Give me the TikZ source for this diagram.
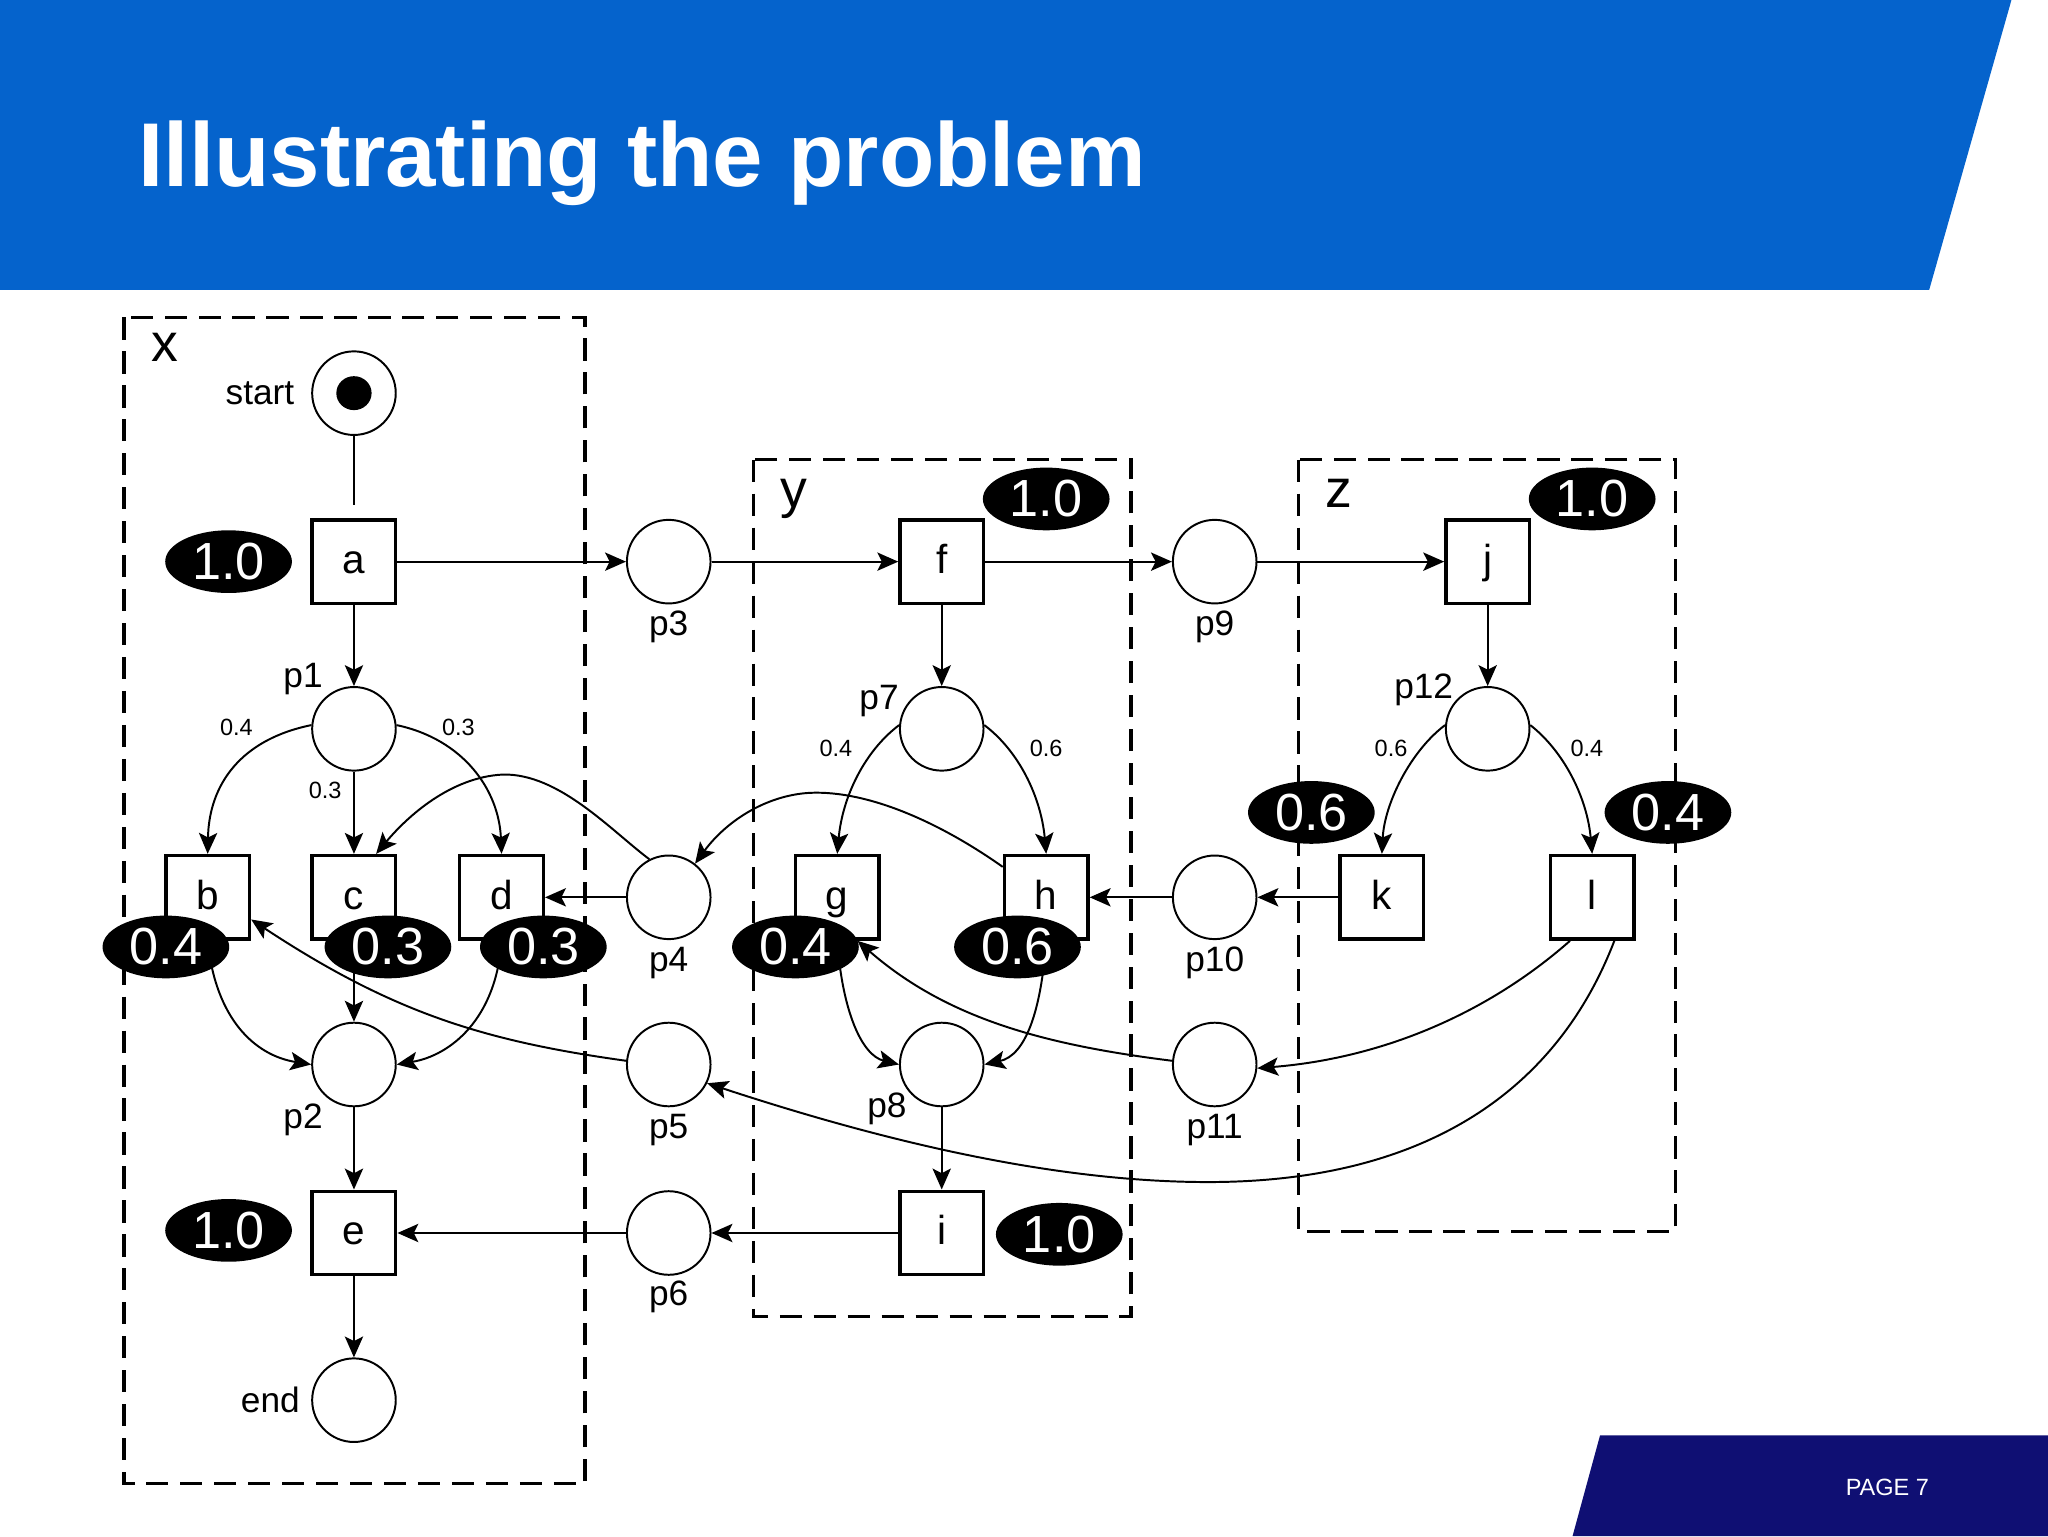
\documentclass[tikz,border=0pt]{standalone}
\usepackage{fontspec}
\setmainfont{Liberation Sans}
\usetikzlibrary{arrows.meta,shapes.geometric}
\definecolor{hdrblue}{HTML}{0563CC}
\definecolor{ftrnavy}{HTML}{0F0F73}
\newcommand{\fsz}[1]{\fontsize{#1}{#1}\selectfont}
\tikzset{
  place/.style={circle,draw=black,fill=white,line width=1.5pt,minimum size=64pt,inner sep=0pt},
  trans/.style={rectangle,draw=black,fill=white,line width=2.6pt,minimum size=64pt,inner sep=0pt,text height=18pt,text depth=0pt,font=\fsz{31}},
  region/.style={draw=black,line width=2.6pt,dash pattern=on 17pt off 9pt},
  arc/.style={draw=black,line width=1.5pt,-{Stealth[length=16pt,width=14pt,inset=3.5pt]}},
  plain/.style={draw=black,line width=1.5pt},
  lbl/.style={inner sep=0pt,font=\fsz{27}},
  prob/.style={inner sep=0pt,font=\fsz{18}},
  reg/.style={inner sep=0pt,font=\fsz{41}},
  badge/.style={ellipse,fill=black,text=white,minimum width=97pt,minimum height=48pt,inner sep=0pt,font=\fsz{40}},
}
\begin{document}
\begin{tikzpicture}[x=1pt,y=-1pt]
\useasboundingbox (0,0) rectangle (1568,1176);
\fill[white] (0,0) rectangle (1568,1176);
\fill[hdrblue] (0,0) -- (1540,0) -- (1477,222) -- (0,222) -- cycle;
\fill[ftrnavy] (1225,1099) -- (1568,1099) -- (1568,1176) -- (1204,1176) -- cycle;
\node[anchor=base west,inner sep=0pt,text=white,font=\fsz{69.4}\bfseries] (title) at (106,143) {Illustrating the problem};
\node[inner sep=0pt,text=white,font=\fsz{18}] (page) at (1445,1139) {PAGE 7};
% regions
\draw[region] (95,243) rectangle (448,1136);
\draw[region] (577,352) rectangle (866,1008);
\draw[region] (994,352) rectangle (1283,943);
\node[reg] (lx) at (126,266) {x};
\node[reg] (ly) at (608,382) {y};
\node[reg] (lz) at (1025,378) {z};
% places
\node[place] (start) at (271,301) {};
\fill[black] (start.center) ellipse (13.5pt and 13pt);
\coordinate (startend) at (271,387);
\node[place] (p1) at (271,558) {};
\node[place] (p2) at (271,815) {};
\node[place] (end) at (271,1072) {};
\node[place] (p3) at (512,430) {};
\node[place] (p4) at (512,687) {};
\node[place] (p5) at (512,815) {};
\node[place] (p6) at (512,944) {};
\node[place] (p7) at (721,558) {};
\node[place] (p8) at (721,815) {};
\node[place] (p9) at (930,430) {};
\node[place] (p10) at (930,687) {};
\node[place] (p11) at (930,815) {};
\node[place] (p12) at (1139,558) {};
% transitions
\node[trans] (a) at (271,430) {a};
\node[trans] (b) at (159,687) {b};
\node[trans] (c) at (271,687) {c};
\node[trans] (d) at (384,687) {d};
\node[trans] (e) at (271,944) {e};
\node[trans] (f) at (721,430) {f};
\node[trans] (g) at (641,687) {g};
\node[trans] (h) at (801,687) {h};
\node[trans] (i) at (721,944) {i};
\node[trans] (j) at (1139,430) {j};
\node[trans] (k) at (1058,687) {k};
\node[trans] (l) at (1219,687) {l};
% labels
\node[lbl] (tstart) at (199,301) {start};
\node[lbl] (tend) at (207,1072) {end};
\node[lbl] (t1) at (232,520) {p1};
\node[lbl] (t2) at (232,857) {p2};
\node[lbl] (t3) at (512,480) {p3};
\node[lbl] (t4) at (512,737) {p4};
\node[lbl] (t5) at (512,865) {p5};
\node[lbl] (t6) at (512,993) {p6};
\node[lbl] (t7) at (673,537) {p7};
\node[lbl] (t8) at (679,849) {p8};
\node[lbl] (t9) at (930,480) {p9};
\node[lbl] (t10) at (930,737) {p10};
\node[lbl] (t11) at (930,865) {p11};
\node[lbl] (t12) at (1090,528) {p12};
\node[prob] (q1) at (181,557) {0.4};
\node[prob] (q2) at (351,557) {0.3};
\node[prob] (q3) at (249,605) {0.3};
\node[prob] (q4) at (640,573) {0.4};
\node[prob] (q5) at (801,573) {0.6};
\node[prob] (q6) at (1065,573) {0.6};
\node[prob] (q7) at (1215,573) {0.4};
% straight connectors
\draw[plain] (start) -- (startend);
\draw[arc] (a) -- (p1);
\draw[arc] (a) -- (p3);
\draw[arc] (p3) -- (f);
\draw[arc] (f) -- (p9);
\draw[arc] (p9) -- (j);
\draw[arc] (f) -- (p7);
\draw[arc] (j) -- (p12);
\draw[arc] (p1) -- (c);
\draw[arc] (c) -- (p2);
\draw[arc] (p2) -- (e);
\draw[arc] (e) -- (end);
\draw[arc] (p4) -- (d);
\draw[arc] (p10) -- (h);
\draw[arc] (k) -- (p10);
\draw[arc] (p8) -- (i);
\draw[arc] (i) -- (p6);
\draw[arc] (p6) -- (e);
% curved connectors
\draw[arc] (p1.175) .. controls (185,566) and (160,600) .. (b.north);
\draw[arc] (p1.5) .. controls (355,566) and (382,605) .. (d.north);
\draw[arc] (p4.117) .. controls (468,636) and (428,592) .. (385,593) .. controls (345,595) and (312,625) .. (c.63);
\draw[arc] (h.145) .. controls (720,630) and (665,605) .. (620,607) .. controls (585,609) and (555,630) .. (p4.52);
\draw[arc] (p5.175) .. controls (370,797) and (300,775) .. (b.-27);
\draw[arc] (b.south) .. controls (165,780) and (195,808) .. (p2.west);
\draw[arc] (d.south) .. controls (380,780) and (345,808) .. (p2.east);
\draw[arc] (p7.175) .. controls (662,575) and (645,610) .. (g.north);
\draw[arc] (p7.5) .. controls (780,575) and (797,610) .. (h.north);
\draw[arc] (g.south) .. controls (645,775) and (660,808) .. (p8.west);
\draw[arc] (h.south) .. controls (797,775) and (785,808) .. (p8.east);
\draw[arc] (p12.175) .. controls (1080,575) and (1060,615) .. (k.north);
\draw[arc] (p12.5) .. controls (1197,575) and (1215,610) .. (l.north);
\draw[arc] (l.-117) .. controls (1140,775) and (1060,810) .. (p11.-5);
\draw[arc] (l.-63) .. controls (1190,840) and (1085,905) .. (925,905) .. controls (800,905) and (665,870) .. (p5.-26);
\draw[arc] (p11.175) .. controls (800,800) and (725,780) .. (g.-65);
% probability badges
\node[badge] (ba) at (175,430) {1.0};
\node[badge] (bf) at (801,382) {1.0};
\node[badge] (bj) at (1219,382) {1.0};
\node[badge] (bk) at (1004,622) {0.6};
\node[badge] (bl) at (1277,622) {0.4};
\node[badge] (bb) at (127,725) {0.4};
\node[badge] (bc) at (297,725) {0.3};
\node[badge] (bd) at (416,725) {0.3};
\node[badge] (bg) at (609,725) {0.4};
\node[badge] (bh) at (779,725) {0.6};
\node[badge] (be) at (175,942) {1.0};
\node[badge] (bi) at (811,945) {1.0};
\end{tikzpicture}
\end{document}
